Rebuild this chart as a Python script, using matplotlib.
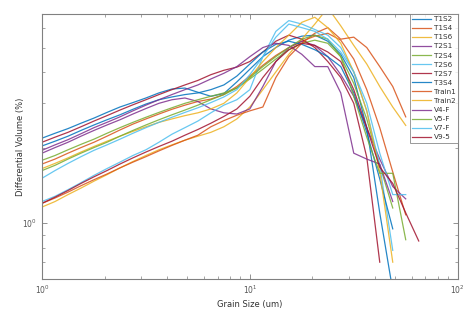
import matplotlib
matplotlib.use('Agg')
import matplotlib.pyplot as plt
from matplotlib.ticker import LogLocator, NullFormatter

# grain size bins (um), 16 per decade
grain = [1.00, 1.155, 1.334, 1.540, 1.778, 2.054, 2.371, 2.738, 3.162, 3.652,
         4.217, 4.870, 5.623, 6.494, 7.499, 8.660, 10.0, 11.55, 13.34, 15.40,
         17.78, 20.54, 23.71, 27.38, 31.62, 36.52, 42.17, 48.70, 56.23, 64.94]

# differential volume (%)
t1s2 = [2.18, 2.28, 2.38, 2.50, 2.62, 2.76, 2.90, 3.02, 3.15, 3.30, 3.42, 3.45, 3.32, 3.20, 3.28,
        3.65, 4.10, 4.60, 5.00, 5.35, 5.55, 5.60, 5.30, 4.70, 3.80, 2.40, 1.10, 0.54]
t1s4 = [1.72, 1.80, 1.90, 2.00, 2.10, 2.22, 2.35, 2.48, 2.60, 2.72, 2.84, 2.95, 3.05, 3.12, 3.25,
        3.50, 3.85, 4.25, 4.65, 5.00, 5.30, 5.55, 5.70, 5.35, 4.50, 3.40, 2.40, 1.60, 1.08]
t1s6 = [1.16, 1.22, 1.30, 1.38, 1.47, 1.56, 1.66, 1.76, 1.86, 1.96, 2.05, 2.14, 2.22, 2.30, 2.42,
        2.60, 2.90, 3.40, 4.00, 4.70, 5.40, 6.20, 7.20, 6.10, 5.10, 4.30, 3.50, 2.90, 2.45]
t2s1 = [1.90, 2.00, 2.10, 2.22, 2.34, 2.46, 2.58, 2.72, 2.86, 3.00, 3.10, 3.15, 3.05, 2.85, 2.75,
        2.72, 2.85, 3.50, 4.40, 5.00, 5.30, 5.10, 4.60, 3.90, 3.20, 2.40, 1.80, 1.40, 1.25]
t2s4 = [1.78, 1.86, 1.96, 2.06, 2.16, 2.28, 2.40, 2.52, 2.64, 2.76, 2.88, 3.00, 3.10, 3.20, 3.30,
        3.45, 3.75, 4.10, 4.50, 4.90, 5.20, 5.35, 5.20, 4.60, 3.60, 2.60, 1.70, 1.15]
t2s6 = [1.22, 1.28, 1.36, 1.45, 1.55, 1.65, 1.75, 1.86, 1.96, 2.10, 2.26, 2.40, 2.55, 2.75, 2.95,
        3.10, 3.40, 4.60, 5.80, 6.40, 6.20, 5.90, 5.60, 5.00, 4.00, 2.80, 1.70, 0.78]
t2s7 = [2.10, 2.20, 2.30, 2.42, 2.55, 2.68, 2.82, 2.96, 3.10, 3.25, 3.40, 3.55, 3.70, 3.90, 4.06,
        4.18, 4.40, 4.80, 5.30, 5.60, 5.40, 5.00, 4.40, 3.80, 3.00, 1.83, 0.70]
t3s4 = [2.03, 2.12, 2.22, 2.34, 2.46, 2.58, 2.70, 2.84, 2.98, 3.10, 3.18, 3.25, 3.30, 3.40, 3.55,
        3.85, 4.30, 4.80, 5.15, 5.30, 5.15, 4.90, 4.60, 4.20, 3.30, 2.30, 1.50, 0.95]
train1 = [1.20, 1.26, 1.33, 1.41, 1.49, 1.57, 1.66, 1.75, 1.84, 1.94, 2.04, 2.14, 2.24, 2.42, 2.56,
          2.69, 2.80, 2.90, 3.80, 4.60, 5.20, 5.70, 6.00, 5.40, 5.50, 5.00, 4.20, 3.50, 2.65]
train2 = [1.65, 1.73, 1.82, 1.92, 2.02, 2.12, 2.22, 2.32, 2.42, 2.52, 2.60, 2.68, 2.75, 2.85, 3.00,
          3.30, 3.80, 4.40, 5.00, 5.60, 6.30, 6.60, 6.00, 5.20, 4.00, 2.80, 1.60, 0.70]
v4f = [1.95, 2.05, 2.15, 2.27, 2.40, 2.52, 2.65, 2.80, 2.95, 3.10, 3.25, 3.40, 3.55, 3.75, 3.95,
       4.20, 4.60, 5.00, 5.20, 5.10, 4.70, 4.20, 4.20, 3.30, 1.90, 1.80, 1.72, 1.22]
v5f = [1.62, 1.70, 1.80, 1.90, 2.00, 2.10, 2.22, 2.34, 2.46, 2.58, 2.70, 2.82, 2.95, 3.10, 3.25,
       3.45, 3.80, 4.20, 4.60, 5.00, 5.40, 5.60, 5.40, 4.60, 3.20, 2.20, 1.58, 1.58, 0.86]
v7f = [1.51, 1.62, 1.73, 1.84, 1.95, 2.05, 2.16, 2.28, 2.40, 2.52, 2.64, 2.76, 2.88, 3.02, 3.18,
       3.40, 3.90, 4.60, 5.50, 6.20, 6.00, 5.80, 5.40, 4.80, 4.00, 3.00, 1.90, 1.30, 1.30]
v95 = [1.20, 1.27, 1.35, 1.44, 1.53, 1.62, 1.72, 1.82, 1.92, 2.02, 2.12, 2.24, 2.36, 2.50, 2.66,
       2.85, 3.20, 3.80, 4.40, 4.90, 5.20, 5.10, 4.80, 4.40, 3.40, 2.40, 1.67, 1.44, 1.10, 0.85]

names = ['T1S2', 'T1S4', 'T1S6', 'T2S1', 'T2S4', 'T2S6', 'T2S7', 'T3S4',
         'Train1', 'Train2', 'V4-F', 'V5-F', 'V7-F', 'V9-5']
series = [t1s2, t1s4, t1s6, t2s1, t2s4, t2s6, t2s7, t3s4,
          train1, train2, v4f, v5f, v7f, v95]

# matlab default colour order
colors = ['#0072BD', '#D95319', '#EDB120', '#7E2F8E', '#77AC30', '#4DBEEE', '#A2142F']

fig = plt.figure(figsize=(4.74, 3.13), dpi=100)
ax = fig.add_axes([0.0886, 0.1086, 0.877, 0.8467])

for i, (name, vals) in enumerate(zip(names, series)):
    ax.plot(grain[:len(vals)], vals, color=colors[i % 7], lw=0.9, alpha=0.85, label=name)

ax.set_xscale('log')
ax.set_yscale('log')
ax.set_xlim(1, 100)
ax.set_ylim(0.6, 6.8)

ax.yaxis.set_major_locator(LogLocator(base=10))
ax.yaxis.set_minor_locator(LogLocator(base=10, subs=range(2, 10)))
ax.yaxis.set_minor_formatter(NullFormatter())
ax.xaxis.set_minor_formatter(NullFormatter())

gray = '#808080'
for s in ax.spines.values():
    s.set_color(gray)
    s.set_linewidth(0.8)
ax.tick_params(which='both', direction='in', top=True, right=True, colors=gray,
               labelcolor='#555555', labelsize=5.5)
ax.tick_params(which='major', length=3.5, width=0.6)
ax.tick_params(which='minor', length=2, width=0.5)

ax.set_xlabel('Grain Size (um)', fontsize=6, color='#333333', labelpad=3)
ax.set_ylabel('Differential Volume (%)', fontsize=6, color='#333333', labelpad=-2)

leg = ax.legend(loc='upper right', fontsize=5.2, borderaxespad=0, fancybox=False,
                handlelength=2.6, labelspacing=0.42, borderpad=0.3, handletextpad=0.4)
leg.get_frame().set_edgecolor(gray)
leg.get_frame().set_linewidth(0.7)
for t in leg.get_texts():
    t.set_color('#333333')

fig.savefig('out.png', dpi=100)
